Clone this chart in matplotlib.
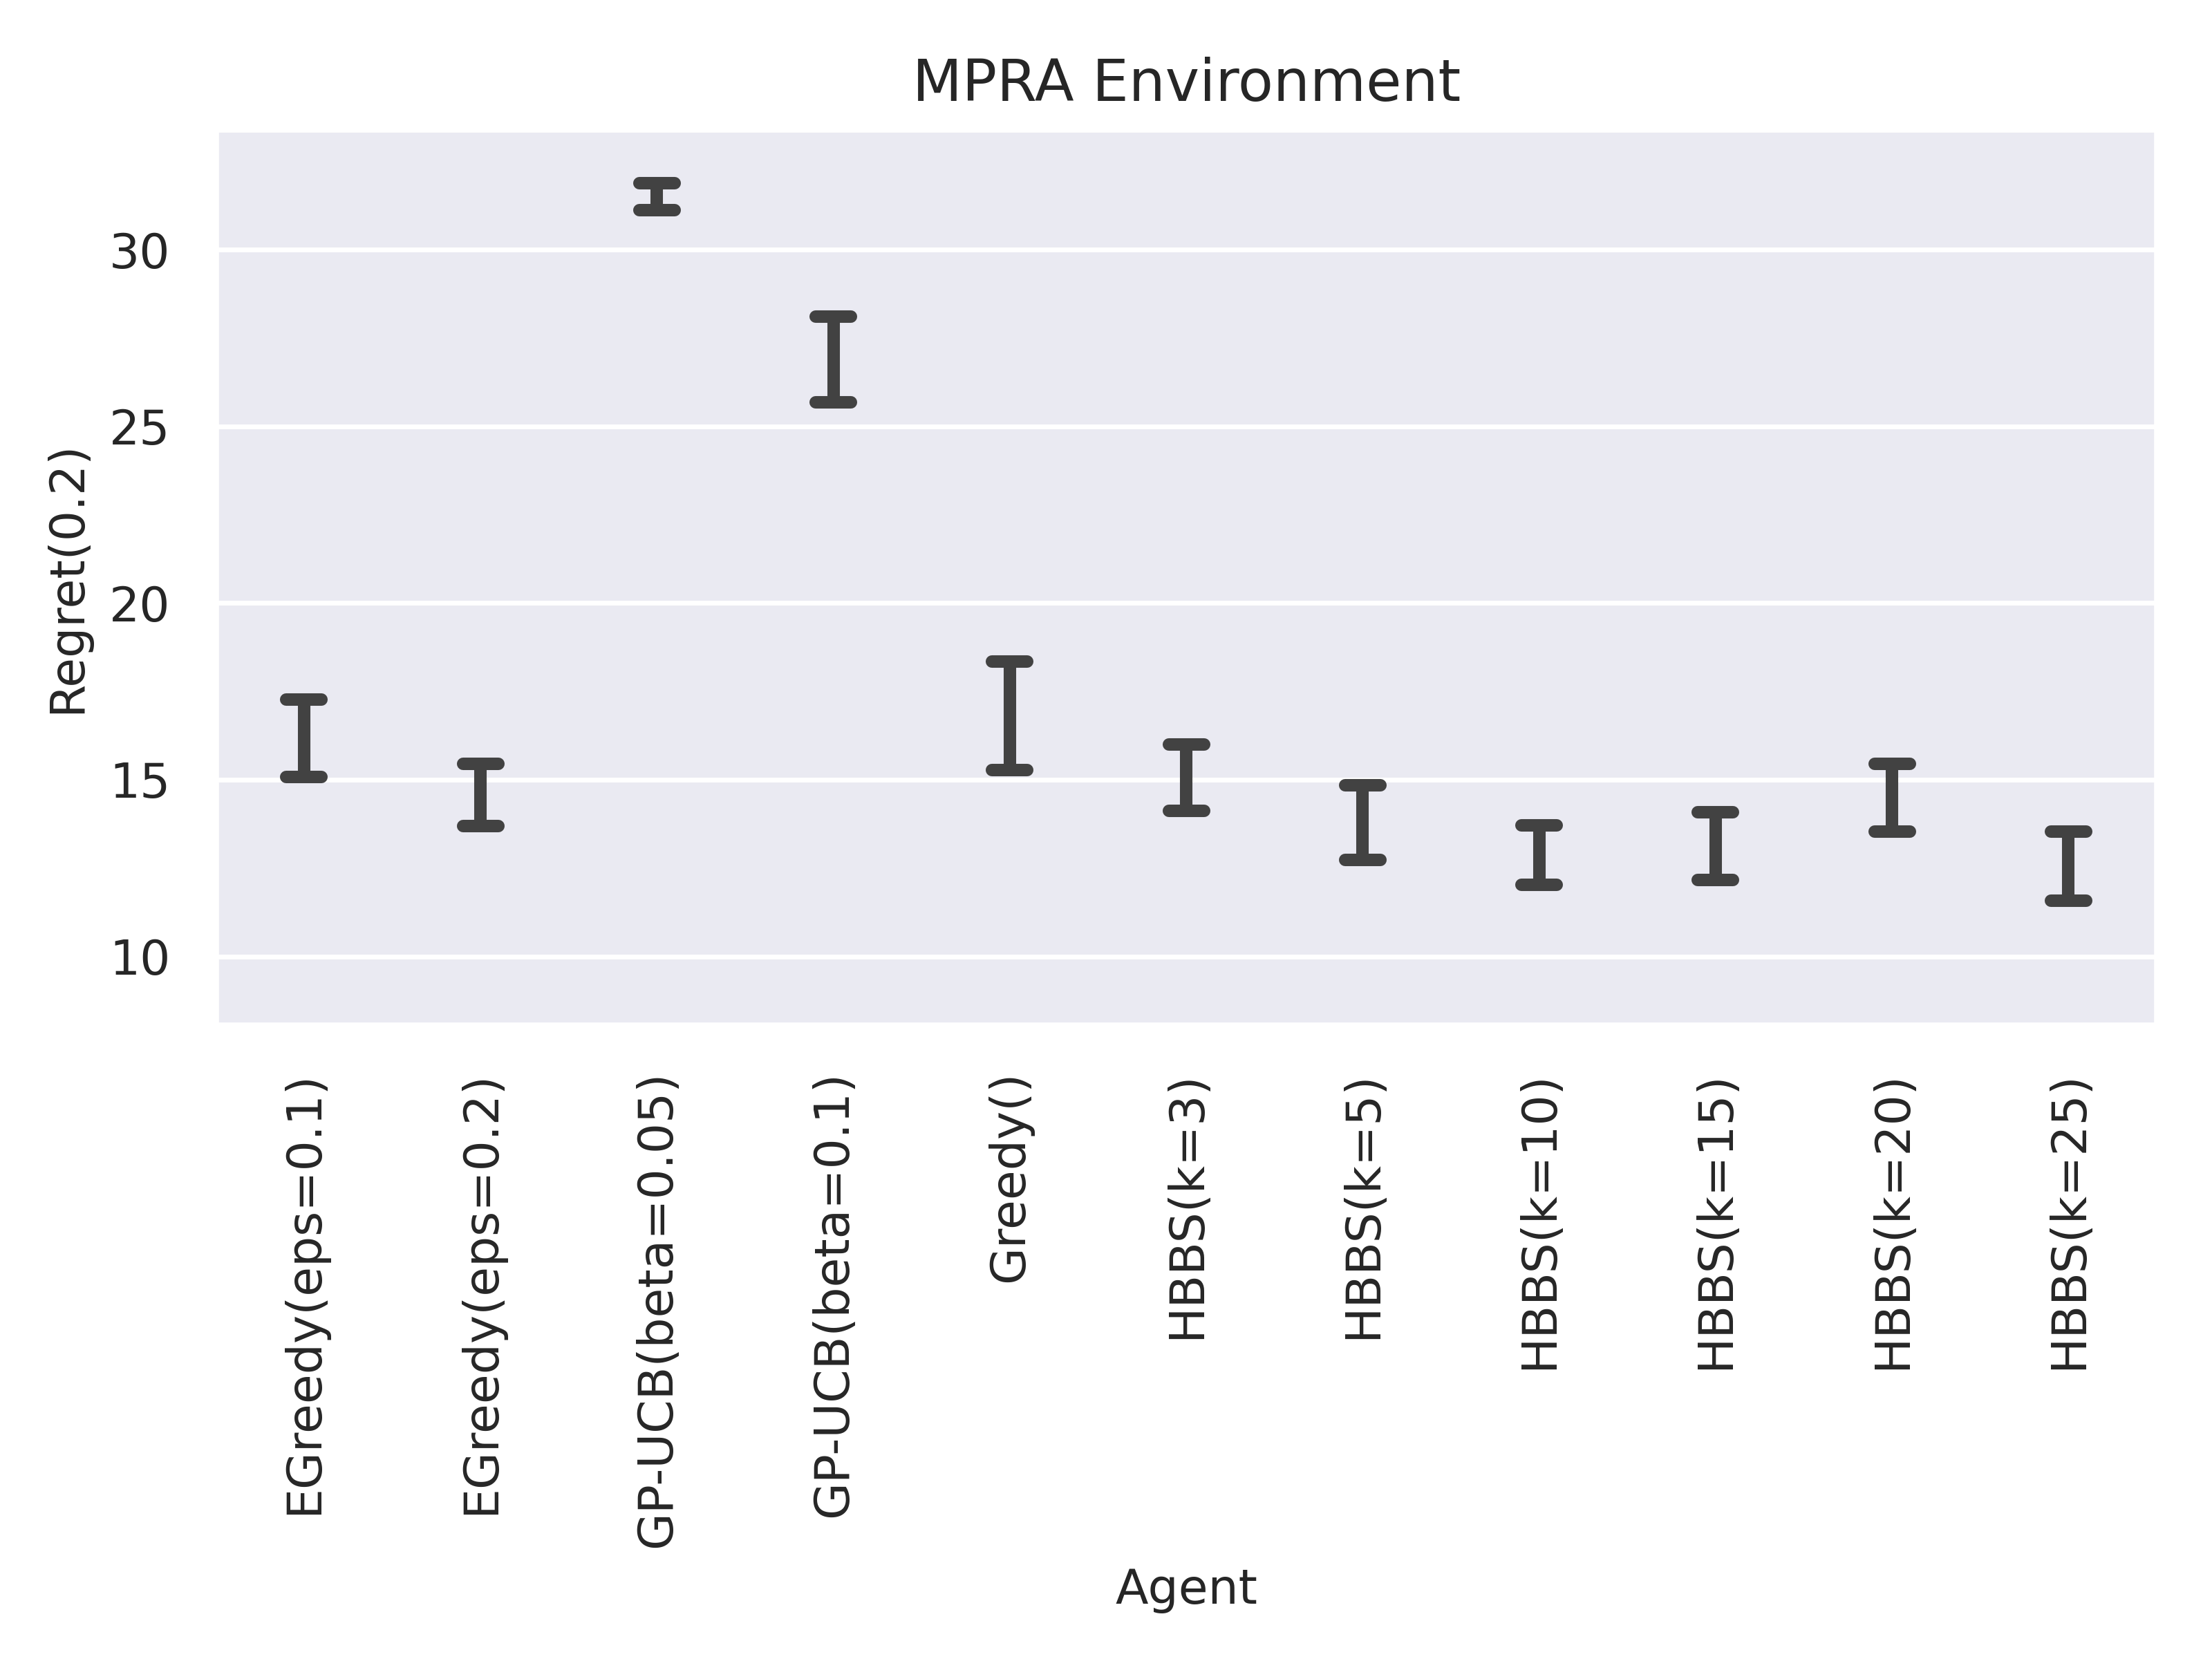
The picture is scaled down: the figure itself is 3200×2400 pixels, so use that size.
import matplotlib
matplotlib.use('Agg')
import matplotlib.pyplot as plt
import seaborn as sns

agentes = ['EGreedy(eps=0.1)', 'EGreedy(eps=0.2)', 'GP-UCB(beta=0.05)', 'GP-UCB(beta=0.1)',
           'Greedy()', 'HBBS(k=3)', 'HBBS(k=5)', 'HBBS(k=10)', 'HBBS(k=15)',
           'HBBS(k=20)', 'HBBS(k=25)']
# limites del intervalo de confianza
bajos = [15.08, 13.69, 31.12, 25.68, 15.28, 14.12, 12.73, 12.03, 12.17, 13.53, 11.57]
altos = [17.27, 15.44, 31.87, 28.10, 18.35, 16.00, 14.84, 13.71, 14.08, 15.44, 13.53]

sns.set_theme(style='darkgrid')

fig, ax = plt.subplots(figsize=(6.4, 4.8), dpi=500)
color = '.26'
cap = 0.1
for i, (lo, hi) in enumerate(zip(bajos, altos)):
    ax.plot([i, i], [lo, hi], color=color, lw=2.6, solid_capstyle='butt')
    ax.plot([i - cap, i + cap], [lo, lo], color=color, lw=2.6, solid_capstyle='round')
    ax.plot([i - cap, i + cap], [hi, hi], color=color, lw=2.6, solid_capstyle='round')

ax.set_xticks(range(len(agentes)))
ax.set_xticklabels(agentes, rotation=90, fontsize=10)
ax.tick_params(axis='y', labelsize=10)
ax.set_xlim(-0.5, len(agentes) - 0.5)
ax.set_ylim(8.05, 33.4)
ax.grid(axis='x', visible=False)
ax.set_xlabel('Agent', fontsize=10)
ax.set_ylabel('Regret(0.2)', fontsize=10)
ax.set_title('MPRA Environment', fontsize=12)
fig.subplots_adjust(left=0.0976, right=0.975, top=0.922, bottom=0.382)
fig.savefig('out.png')
